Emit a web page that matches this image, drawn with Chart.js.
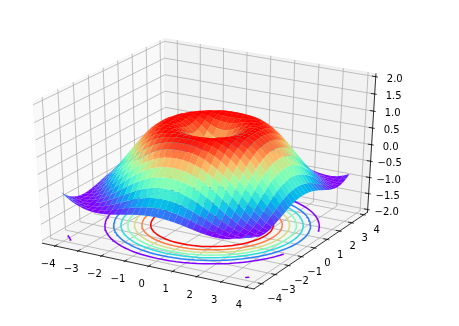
<!DOCTYPE html>
<html>
<head>
<meta charset="utf-8">
<script src="https://cdn.jsdelivr.net/npm/chart.js@4/dist/chart.umd.js"></script>
<style>
  html, body { margin: 0; padding: 0; background: #fff; }
  canvas { display: block; }
</style>
</head>
<body>
<canvas id="myChart" width="459" height="326"></canvas>
<script>
// tick labels of the three axes
const xTicks = [-4, -3, -2, -1, 0, 1, 2, 3, 4];
const yTicks = [-4, -3, -2, -1, 0, 1, 2, 3, 4];
const zTicks = [-2, -1.5, -1, -0.5, 0, 0.5, 1, 1.5, 2];

// surface sample positions, same for x and y
const gridPos = [-4, -3.75, -3.5, -3.25, -3, -2.75, -2.5, -2.25, -2, -1.75, -1.5, -1.25, -1, -0.75, -0.5, -0.25,
  0, 0.25, 0.5, 0.75, 1, 1.25, 1.5, 1.75, 2, 2.25, 2.5, 2.75, 3, 3.25, 3.5, 3.75];

// surface height, one quadrant (the surface is mirrored in x and y), row/col = |pos| * 4
const zQuarter = [
  [0, .247, .479, .682, .841, .949, .997, .984, .909, .778, .598, .382, .141, -.108, -.351, -.572, -.757],
  [.247, .346, .530, .711, .858, .957, .999, .981, .903, .769, .588, .371, .131, -.118, -.360, -.578, -.762],
  [.479, .530, .650, .784, .899, .975, 1.000, .969, .882, .743, .558, .340, .100, -.146, -.384, -.599, -.777],
  [.682, .711, .784, .873, .949, .994, .994, .945, .844, .696, .507, .287, .049, -.192, -.424, -.630, -.801],
  [.841, .858, .899, .949, .988, 1.000, .973, .903, .787, .628, .434, .214, -.021, -.256, -.478, -.674, -.831],
  [.949, .957, .975, .994, 1.000, .981, .928, .836, .706, .538, .340, .121, -.108, -.334, -.544, -.725, -.867],
  [.997, .999, 1.000, .994, .973, .928, .852, .743, .598, .423, .224, .009, -.211, -.424, -.618, -.782, -.904],
  [.984, .981, .969, .945, .903, .836, .743, .619, .465, .287, .090, -.118, -.325, -.522, -.697, -.840, -.941],
  [.909, .903, .882, .844, .787, .706, .598, .465, .308, .131, -.060, -.256, -.447, -.624, -.777, -.895, -.971],
  [.778, .769, .743, .696, .628, .538, .423, .287, .131, -.040, -.220, -.400, -.572, -.725, -.852, -.943, -.992],
  [.598, .588, .558, .507, .434, .340, .224, .090, -.060, -.220, -.384, -.544, -.691, -.818, -.917, -.979, -1.000],
  [.382, .371, .340, .287, .214, .121, .009, -.118, -.256, -.400, -.544, -.680, -.801, -.898, -.966, -.998, -.990],
  [.141, .131, .100, .049, -.021, -.108, -.211, -.325, -.447, -.572, -.691, -.801, -.892, -.958, -.995, -.996, -.959],
  [-.108, -.118, -.146, -.192, -.256, -.334, -.424, -.522, -.624, -.725, -.818, -.898, -.958, -.993, -.998, -.969, -.905],
  [-.351, -.360, -.384, -.424, -.478, -.544, -.618, -.697, -.777, -.852, -.917, -.966, -.995, -.998, -.972, -.914, -.825],
  [-.572, -.578, -.599, -.630, -.674, -.725, -.782, -.840, -.895, -.943, -.979, -.998, -.996, -.969, -.914, -.830, -.717],
  [-.757, -.762, -.777, -.801, -.831, -.867, -.904, -.941, -.971, -.992, -1.000, -.990, -.959, -.905, -.825, -.717, -.586],
];

// contour levels, drawn on the floor
const contourLevels = [-0.75, -0.5, -0.25, 0, 0.25, 0.5, 0.75];
const contourFloor = -2;

// axis limits
const xLim = [-4.3875, 4.1375];
const yLim = [-4.3875, 4.1375];
const zLim = [-2, 2];

function zAt(a, b) {
  return zQuarter[Math.abs(gridPos[a] * 4)][Math.abs(gridPos[b] * 4)];
}

// same view as elev=30, azim=-60, dist=10
function project(x, y, z) {
  const qx = (x - xLim[0]) / (xLim[1] - xLim[0]) - 0.5;
  const qy = (y - yLim[0]) / (yLim[1] - yLim[0]) - 0.5;
  const qz = (z - zLim[0]) / (zLim[1] - zLim[0]) - 0.5;
  const d = 10 - (0.4330 * qx - 0.75 * qy + 0.5 * qz);
  return {
    x: (0.8660 * qx + 0.5 * qy) / d,
    y: (-0.25 * qx + 0.4330 * qy + 0.8660 * qz) / d,
    d: d,
  };
}

function rainbow(t) {
  const r = Math.min(1, Math.abs(2 * t - 0.5));
  const g = Math.sin(Math.PI * t);
  const b = Math.cos(Math.PI * t / 2);
  return 'rgb(' + Math.round(r * 255) + ',' + Math.round(g * 255) + ',' + Math.round(b * 255) + ')';
}

const datasets = [];
function addLine(points, color, width) {
  datasets.push({
    data: points, showLine: true, pointRadius: 0,
    borderColor: color, borderWidth: width, borderCapStyle: 'round', fill: false,
  });
}
function addPoly(points, color, edge) {
  datasets.push({
    data: points.concat([points[0]]), showLine: true, pointRadius: 0,
    backgroundColor: color, borderColor: edge || color, borderWidth: edge ? 1 : 0, fill: 'shape',
  });
}

// pane box is a bit bigger than the limits
const xPad = (xLim[1] - xLim[0]) / 48, yPad = (yLim[1] - yLim[0]) / 48, zPad = (zLim[1] - zLim[0]) / 48;
const x0 = xLim[0] - xPad, x1 = xLim[1] + xPad;
const y0 = yLim[0] - yPad, y1 = yLim[1] + yPad;
const z0 = zLim[0] - zPad, z1 = zLim[1] + zPad;

// panes
addPoly([project(x0, y0, z0), project(x0, y1, z0), project(x0, y1, z1), project(x0, y0, z1)], '#f9f9f9', 'rgba(242,242,242,0.5)');
addPoly([project(x0, y1, z0), project(x1, y1, z0), project(x1, y1, z1), project(x0, y1, z1)], '#f2f2f2', 'rgba(230,230,230,0.5)');
addPoly([project(x0, y0, z0), project(x1, y0, z0), project(x1, y1, z0), project(x0, y1, z0)], '#f5f5f5', 'rgba(236,236,236,0.5)');

// grid
const gridColor = '#b0b0b0';
xTicks.forEach(v => addLine([project(v, y0, z0), project(v, y1, z0), project(v, y1, z1)], gridColor, 0.8));
yTicks.forEach(v => addLine([project(x1, v, z0), project(x0, v, z0), project(x0, v, z1)], gridColor, 0.8));
zTicks.forEach(v => addLine([project(x0, y0, v), project(x0, y1, v), project(x1, y1, v)], gridColor, 0.8));

// axis lines
addLine([project(x0, y0, z0), project(x1, y0, z0)], '#000', 0.8);
addLine([project(x1, y0, z0), project(x1, y1, z0)], '#000', 0.8);
addLine([project(x1, y1, z0), project(x1, y1, z1)], '#000', 0.8);

// tick marks
const xd = (xLim[1] - xLim[0]) / 12, yd = (yLim[1] - yLim[0]) / 12;
xTicks.forEach(v => addLine([project(v, y0 - 0.1 * yd, z0), project(v, y0 + 0.2 * yd, z0)], '#000', 0.8));
yTicks.forEach(v => addLine([project(x1 + 0.1 * xd, v, z0), project(x1 - 0.2 * xd, v, z0)], '#000', 0.8));
zTicks.forEach(v => addLine([project(x1 + 0.1 * xd, y1, v), project(x1 - 0.2 * xd, y1, v)], '#000', 0.8));

// contour lines, walked through the grid cell by cell
contourLevels.forEach((level, n) => {
  const pts = [];
  for (let a = 0; a < gridPos.length - 1; a++) {
    for (let b = 0; b < gridPos.length - 1; b++) {
      const xa = gridPos[a], xb = gridPos[a + 1], ya = gridPos[b], yb = gridPos[b + 1];
      const corners = [[xa, ya, zAt(a, b)], [xb, ya, zAt(a + 1, b)], [xb, yb, zAt(a + 1, b + 1)], [xa, yb, zAt(a, b + 1)]];
      const cross = [];
      for (let k = 0; k < 4; k++) {
        const p = corners[k], q = corners[(k + 1) % 4];
        if ((p[2] < level) !== (q[2] < level)) {
          const t = (level - p[2]) / (q[2] - p[2]);
          cross.push(project(p[0] + t * (q[0] - p[0]), p[1] + t * (q[1] - p[1]), contourFloor));
        }
      }
      for (let k = 0; k + 1 < cross.length; k += 2) {
        pts.push(cross[k], cross[k + 1], { x: NaN, y: NaN });
      }
    }
  }
  addLine(pts, rainbow(n / (contourLevels.length - 1)), 1.5);
});

// surface cells, far ones first
const cells = [];
for (let a = 0; a < gridPos.length - 1; a++) {
  for (let b = 0; b < gridPos.length - 1; b++) {
    const xa = gridPos[a], xb = gridPos[a + 1], ya = gridPos[b], yb = gridPos[b + 1];
    const z1s = [zAt(a, b), zAt(a + 1, b), zAt(a + 1, b + 1), zAt(a, b + 1)];
    const poly = [project(xa, ya, z1s[0]), project(xb, ya, z1s[1]), project(xb, yb, z1s[2]), project(xa, yb, z1s[3])];
    cells.push({
      poly: poly,
      depth: (poly[0].d + poly[1].d + poly[2].d + poly[3].d) / 4,
      z: (z1s[0] + z1s[1] + z1s[2] + z1s[3]) / 4,
    });
  }
}
const zMin = Math.min(...cells.map(c => c.z));
const zMax = Math.max(...cells.map(c => c.z));
cells.sort((p, q) => q.depth - p.depth);
cells.forEach(c => addPoly(c.poly, rainbow((c.z - zMin) / (zMax - zMin))));

// first dataset in the list has to be painted first
datasets.forEach((ds, i) => { ds.order = datasets.length - i; });

const tickLabels = {
  id: 'tickLabels',
  afterDraw(chart) {
    const { ctx, scales } = chart;
    const put = (pos, dx, dy, text) => {
      ctx.fillText(text, scales.x.getPixelForValue(pos.x) + dx, scales.y.getPixelForValue(pos.y) + dy);
    };
    const fmt = v => String(v).replace('-', '\u2212');
    const fmtZ = v => v.toFixed(1).replace('-', '\u2212');
    ctx.save();
    ctx.font = '10px "DejaVu Sans"';
    ctx.fillStyle = '#000';
    ctx.textAlign = 'center';
    ctx.textBaseline = 'middle';
    xTicks.forEach(v => put(project(v, y0, z0), -7, 18.3, fmt(v)));
    yTicks.forEach(v => put(project(x1, v, z0), 13, 15.5, fmt(v)));
    zTicks.forEach(v => put(project(x1, y1, v), 19, 2.4, fmtZ(v)));
    ctx.restore();
  },
};

new Chart(document.getElementById('myChart'), {
  type: 'scatter',
  data: { datasets: datasets },
  plugins: [tickLabels],
  options: {
    responsive: false,
    animation: false,
    events: [],
    layout: { padding: 0 },
    plugins: { legend: { display: false }, tooltip: { enabled: false } },
    scales: {
      x: { type: 'linear', display: false, min: -0.08849, max: 0.10725 },
      y: { type: 'linear', display: false, min: -0.10755, max: 0.10277 },
    },
  },
});
</script>
</body>
</html>
